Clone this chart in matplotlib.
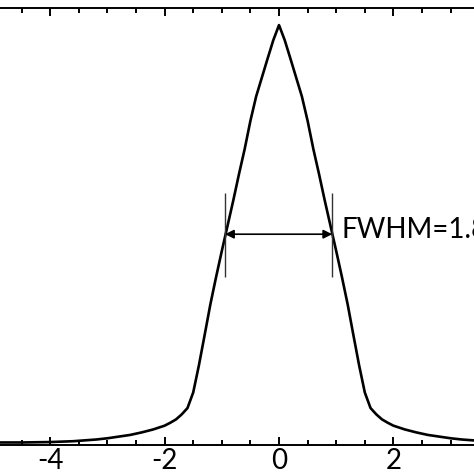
import matplotlib.pyplot as plt
from matplotlib.ticker import MultipleLocator

# half profile of the peak (distance from centre -> normalised intensity)
offsets = [0.0, 0.1, 0.2, 0.3, 0.4, 0.5, 0.6, 0.7, 0.8, 0.9, 1.0,
           1.1, 1.2, 1.3, 1.4, 1.5, 1.6, 1.7, 1.8, 1.9, 2.0,
           2.2, 2.4, 2.6, 2.8, 3.0, 3.2, 3.4, 3.6, 3.8, 4.0, 4.5, 5.0]
half_profile = [1.0, 0.964, 0.92, 0.875, 0.83, 0.772, 0.705, 0.645, 0.582, 0.522, 0.462,
                0.40, 0.335, 0.262, 0.19, 0.125, 0.088, 0.073, 0.061, 0.053, 0.046,
                0.037, 0.030, 0.024, 0.020, 0.016, 0.013, 0.011, 0.009, 0.008, 0.007, 0.006, 0.006]

fwhm_left = -0.944
fwhm_right = 0.93
half_level = 0.502
fwhm_label = "FWHM=1.87"

x = [-d for d in offsets[::-1]] + offsets[1:]
y = half_profile[::-1] + half_profile[1:]

plt.rcParams['font.family'] = ['Lato', 'DejaVu Sans']
plt.rcParams['axes.unicode_minus'] = False

fig = plt.figure(figsize=(4.74, 4.74), dpi=100)
ax = fig.add_axes([-0.01477, 0.0612, 1.2068, 0.9213])

ax.plot(x, y, color='black', linewidth=1.9)

# FWHM marker
ax.vlines([fwhm_left, fwhm_right], 0.4, 0.6, color='#333333', linewidth=1.0)
ax.annotate('', xy=(fwhm_right, half_level), xytext=(fwhm_left, half_level),
            arrowprops=dict(arrowstyle='<|-|>', color='black', lw=1.2,
                            mutation_scale=13, shrinkA=0, shrinkB=0))
ax.text(1.1, half_level + 0.01, fwhm_label, fontsize=20, va='center', ha='left')

ax.set_xlim(-5, 5)
ax.set_ylim(0, 1.04)
ax.xaxis.set_major_locator(MultipleLocator(2))
ax.xaxis.set_minor_locator(MultipleLocator(0.5))
ax.set_yticks([])
ax.tick_params(axis='x', which='both', direction='in', top=True, width=1.4,
               labelsize=20, pad=2)
ax.tick_params(axis='x', which='major', length=6)
ax.tick_params(axis='x', which='minor', length=3.5)
for s in ax.spines.values():
    s.set_linewidth(1.4)

fig.savefig('out.png', dpi=100)
